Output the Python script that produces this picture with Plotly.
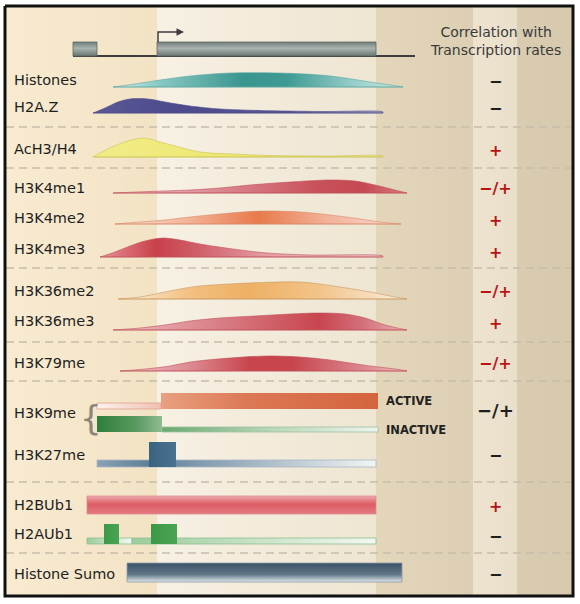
import plotly.graph_objects as go

W, H = 580, 604

# gene model, positions along the drawing
EXONS = [(73, 97), (157, 376)]
GENE_LINE = (73, 415)
TSS = 158

# background columns: (x0, x1, left colour, right colour)
BANDS = [(5, 157, "#f8ebd1", "#f3e3c5"),
         (157, 376, "#f7f1e4", "#eee5d2"),
         (376, 473, "#e3d6ba", "#dccfb4"),
         (473, 517, "#ede3cf", "#e9dfcb"),
         (517, 573, "#d9ccb1", "#d6c9ae")]
SEPARATORS = [127, 168, 268, 342, 381, 482, 553]

LABELS = ["Histones", "H2A.Z", "AcH3/H4", "H3K4me1", "H3K4me2", "H3K4me3",
          "H3K36me2", "H3K36me3", "H3K79me", "H3K9me", "H3K27me",
          "H2BUb1", "H2AUb1", "Histone Sumo"]
LABEL_Y = [80, 107, 149, 188, 218, 249, 291, 321, 363, 413, 455, 505, 534, 574]
CORR = ["−", "−", "+", "−/+", "+", "+", "−/+", "+", "−/+", "−/+", "−", "+", "−", "−"]
CORR_Y = [81, 108, 150, 188, 220, 252, 291, 323, 363, 410, 455, 506, 536, 574]

# smooth occupancy profiles: positions and heights above the row baseline
HISTONES_X = [113, 135, 160, 190, 230, 280, 320, 345, 370, 390, 403]
HISTONES_H = [0, 3, 7, 11, 14, 14, 12, 9, 5, 2, 0]
H2AZ_X = [93, 105, 118, 130, 148, 165, 190, 220, 260, 320, 383, 383]
H2AZ_H = [0, 5, 11, 14, 14, 11, 7, 4, 2.5, 1.5, 1, 0]
ACH3_X = [93, 108, 125, 143, 160, 175, 200, 233, 270, 330, 383, 383]
ACH3_H = [0, 8, 15, 19, 15, 11, 5, 3, 1.5, 1, 1, 0]
K4ME1_X = [113, 150, 190, 220, 250, 290, 330, 355, 375, 395, 407]
K4ME1_H = [0, 1.5, 3, 5, 8, 11, 13, 12, 8, 3, 0]
K4ME2_X = [115, 140, 165, 190, 220, 250, 270, 300, 330, 360, 380, 401]
K4ME2_H = [0, 2, 4, 7, 10, 12.5, 13, 12, 9, 5, 2, 0]
K4ME3_X = [100, 115, 130, 145, 163, 180, 200, 233, 267, 310, 383, 383]
K4ME3_H = [0, 5, 11, 16, 19, 17, 13, 8, 4, 2, 1, 0]
K36ME2_X = [118, 140, 160, 180, 200, 250, 300, 320, 340, 370, 395, 407]
K36ME2_H = [0, 2, 6, 10, 13, 16, 17, 15, 12, 7, 2, 0]
K36ME3_X = [113, 140, 165, 190, 220, 255, 290, 320, 345, 365, 385, 407]
K36ME3_H = [0, 2, 5, 9, 12, 14, 16, 17, 16, 12, 5, 0]
K79ME_X = [120, 145, 170, 190, 230, 267, 300, 330, 350, 370, 395, 407]
K79ME_H = [0, 2, 5, 9, 13, 15, 14, 11, 8, 5, 2, 0]

# block-shaped marks: (start, end, height)
K9_ACTIVE = [(97, 161, 6), (161, 378, 16)]
K9_INACTIVE = [(97, 162, 16), (162, 378, 5)]
K27ME = [(97, 376, 7), (149, 176, 25)]
H2BUB1 = [(87, 376, 18)]
H2AUB1 = [(87, 132, 6), (132, 376, 6), (104, 119, 20), (151, 177, 20)]
SUMO = [(127, 402, 19)]

fig = go.Figure()


def poly(xs, ys, grad, edge=None, ew=0.0, shape="linear"):
    fig.add_trace(go.Scatter(
        x=xs, y=ys, mode="lines", fill="toself",
        line=dict(color=edge or "rgba(0,0,0,0)", width=ew, shape=shape, smoothing=0.9),
        fillgradient=grad, hoverinfo="skip", showlegend=False))


def hgrad(scale):
    return dict(type="horizontal", colorscale=scale)


def vgrad(scale):
    # y axis runs downwards, so scale 0 ends up at the bottom of the box: flip it
    return dict(type="vertical", colorscale=[[1 - p, c] for p, c in reversed(scale)])


def profile(xs, hs, base, scale, edge):
    poly(xs, [base - h for h in hs], hgrad(scale), edge, 0.6, "spline")
    fig.add_trace(go.Scatter(x=[xs[0], xs[-1]], y=[base, base], mode="lines",
                             line=dict(color=edge, width=1.2),
                             hoverinfo="skip", showlegend=False))


def block(x0, x1, h, base, grad, edge=None):
    poly([x0, x1, x1, x0, x0], [base, base, base - h, base - h, base], grad, edge, 0.8 if edge else 0)


# background
for x0, x1, c0, c1 in BANDS:
    poly([x0, x1, x1, x0, x0], [6, 6, 596, 596, 6], hgrad([[0, c0], [1, c1]]))

for y in SEPARATORS:
    fig.add_trace(go.Scatter(x=[6, 572], y=[y, y], mode="lines",
                             line=dict(color="#c9bda9", width=1.4, dash="8px,5px"),
                             hoverinfo="skip", showlegend=False))

# gene model
fig.add_trace(go.Scatter(x=list(GENE_LINE), y=[56, 56], mode="lines",
                         line=dict(color="#3c3c3c", width=2),
                         hoverinfo="skip", showlegend=False))
for x0, x1 in EXONS:
    block(x0, x1, 14, 56, vgrad([[0, "#717d79"], [0.45, "#a9b3af"], [1, "#6a7572"]]), "#5e6966")
fig.add_trace(go.Scatter(x=[TSS, TSS, TSS + 20], y=[42, 32, 32], mode="lines",
                         line=dict(color="#3c3c3c", width=1.5),
                         hoverinfo="skip", showlegend=False))
fig.add_annotation(x=TSS + 26, y=32, ax=TSS + 18, ay=32, xref="x", yref="y",
                   axref="x", ayref="y", showarrow=True, arrowhead=2,
                   arrowsize=1, arrowwidth=1.5, arrowcolor="#3c3c3c", text="")

# smooth profiles
profile(HISTONES_X, HISTONES_H, 87,
        [[0, "#d8eeec"], [0.15, "#8ccac5"], [0.45, "#3a958f"], [0.6, "#3f9a94"],
         [0.85, "#9fd2cd"], [1, "#c8e6e2"]], "#5aa8a2")
profile(H2AZ_X, H2AZ_H, 113,
        [[0, "#5a5896"], [0.3, "#4c4a8c"], [0.7, "#5a5896"], [1, "#a8a6c8"]], "#4c4a8c")
profile(ACH3_X, ACH3_H, 157,
        [[0, "#f2ec88"], [0.5, "#eee772"], [1, "#e8e4a0"]], "#c9c24a")
profile(K4ME1_X, K4ME1_H, 193,
        [[0, "#f0c8cc"], [0.35, "#dc8a92"], [0.7, "#c8505a"], [0.85, "#c44a52"],
         [1, "#d87a80"]], "#c0505a")
profile(K4ME2_X, K4ME2_H, 224,
        [[0, "#fbe0d4"], [0.25, "#f4b49a"], [0.5, "#e87a4c"], [0.75, "#f2b49c"],
         [1, "#f8dcd0"]], "#d88868")
profile(K4ME3_X, K4ME3_H, 257,
        [[0, "#e89098"], [0.2, "#c8404a"], [0.35, "#d0606a"], [0.6, "#e6a0a6"],
         [1, "#f0c8cc"]], "#c0505a")
profile(K36ME2_X, K36ME2_H, 299,
        [[0, "#fbeedd"], [0.25, "#f2c080"], [0.45, "#eeb064"], [0.7, "#f2c48a"],
         [1, "#fbeee0"]], "#c89860")
profile(K36ME3_X, K36ME3_H, 330,
        [[0, "#f0c0c4"], [0.3, "#dc8890"], [0.7, "#c8454e"], [0.85, "#d4707a"],
         [1, "#eab0b4"]], "#c0505a")
profile(K79ME_X, K79ME_H, 371,
        [[0, "#f0c4c8"], [0.25, "#dc8890"], [0.45, "#c8454e"], [0.6, "#c8454e"],
         [0.85, "#dc8890"], [1, "#eebcc0"]], "#c0505a")

# block marks
block(*K9_ACTIVE[0], 409, hgrad([[0, "#fdf2ee"], [1, "#f0c0b0"]]), "#e0a090")
block(*K9_ACTIVE[1], 409, hgrad([[0, "#e8a080"], [0.4, "#dc7854"], [1, "#d4643e"]]))
block(*K9_INACTIVE[0], 432, hgrad([[0, "#2f7d3a"], [0.6, "#5a9a60"], [1, "#90bb90"]]))
block(*K9_INACTIVE[1], 432, hgrad([[0, "#6aa870"], [0.5, "#b8d6b8"], [1, "#eef4ee"]]), "#9cc0a0")
block(*K27ME[0], 467, hgrad([[0, "#8aa2b4"], [0.2, "#5c7c94"], [0.35, "#7e98ac"], [1, "#f2f5f5"]]), "#a8b8c4")
block(*K27ME[1], 467, hgrad([[0, "#3a6380"], [1, "#4a7290"]]))
block(*H2BUB1[0], 514, vgrad([[0, "#eeaaae"], [0.45, "#dc5c64"], [1, "#e27a80"]]), "#e08a90")
for seg in H2AUB1[:2]:
    block(*seg, 544, hgrad([[0, "#9ccc9c"], [1, "#f4f8f2"]]), "#8cc08c")
for seg in H2AUB1[2:]:
    block(*seg, 544, hgrad([[0, "#3c9846"], [1, "#4aa454"]]))
block(*SUMO[0], 582, vgrad([[0, "#3a5266"], [0.6, "#617888"], [1, "#dfe6ea"]]), "#8a9aa6")

# border
fig.add_trace(go.Scatter(x=[5, 573, 573, 5, 5], y=[6, 6, 596, 596, 6], mode="lines",
                         line=dict(color="#111111", width=3),
                         hoverinfo="skip", showlegend=False))

# text
lab_font = dict(family="DejaVu Sans", size=14.5, color="#1e1e1e")
for name, y in zip(LABELS, LABEL_Y):
    fig.add_annotation(x=12, y=y, xref="x", yref="y", xanchor="left", yanchor="middle",
                       text=name, showarrow=False, font=lab_font)

fig.add_annotation(x=91, y=418, xref="x", yref="y", text="{", showarrow=False,
                   font=dict(family="DejaVu Sans", size=34, color="#8a8678"))
fig.add_annotation(x=384, y=401, xref="x", yref="y", xanchor="left", text="<b>ACTIVE</b>",
                   showarrow=False, font=dict(family="DejaVu Sans", size=11.5, color="#222"))
fig.add_annotation(x=384, y=430, xref="x", yref="y", xanchor="left", text="<b>INACTIVE</b>",
                   showarrow=False, font=dict(family="DejaVu Sans", size=11.5, color="#222"))

fig.add_annotation(x=495, y=41, xref="x", yref="y", text="Correlation with<br>Transcription rates",
                   showarrow=False, font=dict(family="DejaVu Sans", size=14, color="#3a3a3a"))

for i, (sym, y) in enumerate(zip(CORR, CORR_Y)):
    col, size = ("#1e1e1e", 16) if sym == "−" else ("#b81414", 16)
    if LABELS[i] == "H3K9me":
        col, size = "#1e1e1e", 18
    fig.add_annotation(x=495, y=y, xref="x", yref="y", text=f"<b>{sym}</b>", showarrow=False,
                       font=dict(family="DejaVu Sans", size=size, color=col))

fig.update_layout(
    width=W, height=H, margin=dict(l=0, r=0, t=0, b=0),
    paper_bgcolor="white", plot_bgcolor="white", showlegend=False,
    xaxis=dict(range=[0, W], visible=False, fixedrange=True),
    yaxis=dict(range=[H, 0], visible=False, fixedrange=True),
)

# page has a default 8px body margin; drop it so the figure sits at the window corner
fig.write_html("out.html", config={"displayModeBar": False},
               post_script="document.body.style.margin='0';")
